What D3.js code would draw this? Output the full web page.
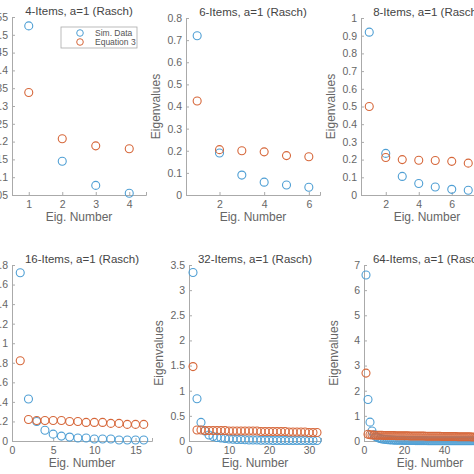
<!DOCTYPE html><html><head><script src="https://d3js.org/d3.v7.min.js"></script>
<style>body{margin:0;background:#fff}text{font-family:"Liberation Sans",Arial,sans-serif;fill:#555}</style></head><body>
<svg id="c" width="474" height="474"></svg>
<script>
const titles=["4-Items, a=1 (Rasch)","6-Items, a=1 (Rasch)","8-Items, a=1 (Rasch)","16-Items, a=1 (Rasch)","32-Items, a=1 (Rasch)","64-Items, a=1 (Rasch)"];
const sim4=[0.525,0.145,0.077,0.055];
const eq4=[0.338,0.208,0.188,0.18];
const sim6=[0.72,0.19,0.09,0.058,0.045,0.035];
const eq6=[0.425,0.205,0.2,0.195,0.178,0.173];
const sim8=[0.92,0.235,0.105,0.065,0.045,0.032,0.027,0.02];
const eq8=[0.5,0.212,0.2,0.196,0.195,0.19,0.18,0.175];
const sim16=[1.72,0.43,0.2,0.11,0.07,0.05,0.04,0.03,0.03,0.02,0.02,0.02,0.01,0.01,0.01,0.01];
const eq16=[0.82,0.22,0.21,0.21,0.21,0.21,0.2,0.2,0.19,0.19,0.19,0.18,0.18,0.17,0.17,0.17];
const sim32=[3.35,0.84,0.37,0.2,0.12,0.09,0.07,0.06,0.05,0.04,0.035,0.03,0.03,0.025,0.02,0.02,0.02,0.015,0.015,0.015,0.01,0.01,0.01,0.01,0.01,0.01,0.01,0.01,0.01,0.01,0.01,0.01];
const eq32=[1.48,0.22,0.22,0.21,0.21,0.21,0.21,0.21,0.21,0.2,0.2,0.2,0.2,0.2,0.2,0.2,0.2,0.19,0.19,0.19,0.19,0.19,0.19,0.19,0.18,0.18,0.18,0.18,0.18,0.17,0.17,0.17];
const sim64=[6.6,1.65,0.75,0.4,0.25,0.17,0.13,0.1,0.08,0.07,0.06,0.05,0.045,0.04,0.035,0.03,0.03,0.03,0.025,0.025,0.02,0.02,0.02,0.02,0.02,0.015,0.015,0.015,0.015,0.015,0.015,0.01,0.01,0.01,0.01,0.01,0.01,0.01,0.01,0.01,0.01,0.01,0.01,0.01,0.01,0.01,0.01,0.01,0.01,0.01,0.01,0.01,0.01,0.01,0.01,0.01,0.01,0.01,0.01,0.01,0.01,0.01,0.01,0.01];
const eq64=[2.7,0.27,0.25,0.24,0.24,0.23,0.23,0.23,0.23,0.22,0.22,0.22,0.22,0.22,0.22,0.21,0.21,0.21,0.21,0.21,0.21,0.21,0.2,0.2,0.2,0.2,0.2,0.2,0.2,0.2,0.19,0.19,0.19,0.19,0.19,0.19,0.19,0.19,0.18,0.18,0.18,0.18,0.18,0.18,0.18,0.18,0.17,0.17,0.17,0.17,0.17,0.17,0.17,0.16,0.16,0.16,0.16,0.15,0.15,0.15,0.14,0.14,0.14,0.13];
const yTicks4=[0.05,0.1,0.15,0.2,0.25,0.3,0.35,0.4,0.45,0.5,0.55];
const legendLabels=["Sim. Data","Equation 3"];
const colors=["#4f9fd4","#d6673a"];
const panels=[
 {s:sim4,e:eq4,xd:[0.5,4.5],yd:[0.05,0.55],L:12,R:146,T:17,B:195,xt:[1,2,3,4],yt:yTicks4,ylab:false},
 {s:sim6,e:eq6,xd:[0.5,6.5],yd:[0,0.8],L:186,R:320,T:18,B:195,xt:[2,4,6],yt:d3.range(0,0.81,0.1),ylab:true},
 {s:sim8,e:eq8,xd:[0.5,8.5],yd:[0,1],L:361,R:493,T:18,B:195,xt:[2,4,6,8],yt:d3.range(0,1.01,0.1),ylab:true},
 {s:sim16,e:eq16,xd:[0,17],yd:[0,1.8],L:12,R:152,T:265,B:441,xt:[0,5,10,15],yt:d3.range(0,1.81,0.2),ylab:false},
 {s:sim32,e:eq32,xd:[0,33],yd:[0,3.5],L:189,R:321,T:265,B:441,xt:[0,10,20,30],yt:d3.range(0,3.51,0.5),ylab:true},
 {s:sim64,e:eq64,xd:[0,66],yd:[0,7],L:364,R:496,T:265,B:441,xt:[0,20,40,60],yt:d3.range(0,7.01,1),ylab:true}];
const svg=d3.select("#c");
panels.forEach((p,i)=>{
 const x=d3.scaleLinear().domain(p.xd).range([p.L,p.R]);
 const y=d3.scaleLinear().domain(p.yd).range([p.B,p.T]);
 const fmt=d3.format("~g");
 const ax=svg.append("g").attr("transform",`translate(0,${p.B})`).call(d3.axisBottom(x).tickValues(p.xt).tickSize(-3).tickPadding(6).tickFormat(fmt));
 const ay=svg.append("g").attr("transform",`translate(${p.L},0)`).call(d3.axisLeft(y).tickValues(p.yt).tickSize(-3).tickPadding(4).tickFormat(fmt));
 [ax,ay].forEach(a=>{a.selectAll("path,line").attr("stroke","#aaa");a.selectAll("text").style("font-size","10.5px").style("fill","#666");});
 svg.append("text").attr("x",(p.L+p.R)/2).attr("y",p.T-2).attr("text-anchor","middle").style("font-size","11.5px").style("fill","#444").text(titles[i]);
 svg.append("text").attr("x",(p.L+p.R)/2).attr("y",p.B+26).attr("text-anchor","middle").style("font-size","12px").style("fill","#666").text("Eig. Number");
 if(p.ylab) svg.append("text").attr("transform",`translate(${p.L-26},${(p.T+p.B)/2}) rotate(-90)`).attr("text-anchor","middle").style("font-size","12px").style("fill","#666").text("Eigenvalues");
 [p.s,p.e].forEach((arr,k)=>{
  svg.append("g").selectAll("circle").data(arr).join("circle").attr("cx",(d,j)=>x(j+1)).attr("cy",d=>y(d)).attr("r",4).attr("fill","none").attr("stroke",colors[k]).attr("stroke-width",1.1);
 });
});
const lg=svg.append("g");
lg.append("rect").attr("x",61).attr("y",27).attr("width",76).attr("height",21).attr("fill","#fff").attr("stroke","#aaa").attr("stroke-width",0.8);
legendLabels.forEach((t,k)=>{
 lg.append("circle").attr("cx",80).attr("cy",33+k*9).attr("r",3.3).attr("fill","none").attr("stroke",colors[k]);
 lg.append("text").attr("x",95).attr("y",36+k*9).style("font-size","8.5px").text(t);
});
</script></body></html>
